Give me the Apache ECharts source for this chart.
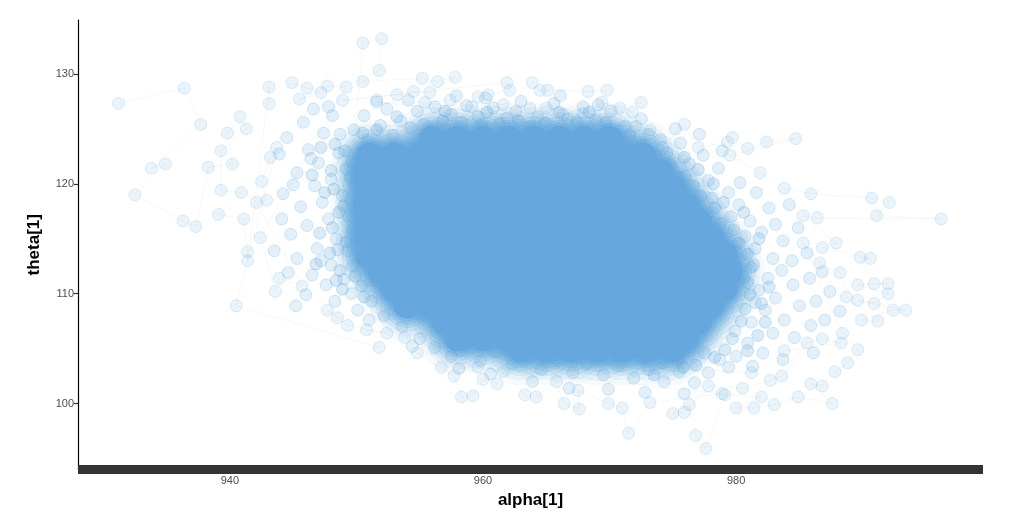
<!DOCTYPE html>
<html>
<head>
<meta charset="utf-8">
<script src="https://cdn.jsdelivr.net/npm/echarts@6/dist/echarts.min.js"></script>
<style>
html,body{margin:0;padding:0;background:#fff;}
#chart{width:1024px;height:529px;}
</style>
</head>
<body>
<div id="chart"></div>
<script>
// Axis labels / ticks
const xTicks = [940, 960, 980];
const yTicks = [100, 110, 120, 130];
const xTitle = 'alpha[1]';
const yTitle = 'theta[1]';

// Dense central region of draws (alpha[1], theta[1]) - read as the solid core
const coreDraws = [
  [956,124],[958,124],[960,124],[962,124],[964,124],[966,124],[968,124],[970,124],
  [951,122.5],[953,122.5],[955,122.5],[957,122.5],[959,122.5],[961,122.5],[963,122.5],[965,122.5],[967,122.5],[969,122.5],[971,122.5],[972.6,122.5],
  [950.8,121],[952,121],[954,121],[956,121],[958,121],[960,121],[962,121],[964,121],[966,121],[968,121],[970,121],[972,121],[974,121],
  [951,119.5],[953,119.5],[955,119.5],[957,119.5],[959,119.5],[961,119.5],[963,119.5],[965,119.5],[967,119.5],[969,119.5],[971,119.5],[973,119.5],[975,119.5],
  [950.8,118],[952,118],[954,118],[956,118],[958,118],[960,118],[962,118],[964,118],[966,118],[968,118],[970,118],[972,118],[974,118],[976,118],
  [951,116.5],[953,116.5],[955,116.5],[957,116.5],[959,116.5],[961,116.5],[963,116.5],[965,116.5],[967,116.5],[969,116.5],[971,116.5],[973,116.5],[975,116.5],[977,116.5],
  [950.9,115],[952,115],[954,115],[956,115],[958,115],[960,115],[962,115],[964,115],[966,115],[968,115],[970,115],[972,115],[974,115],[976,115],[978,115],
  [951,113.5],[953,113.5],[955,113.5],[957,113.5],[959,113.5],[961,113.5],[963,113.5],[965,113.5],[967,113.5],[969,113.5],[971,113.5],[973,113.5],[975,113.5],[977,113.5],[979,113.5],
  [952,112],[954,112],[956,112],[958,112],[960,112],[962,112],[964,112],[966,112],[968,112],[970,112],[972,112],[974,112],[976,112],[978,112],[979.4,112],
  [953,110.5],[955,110.5],[957,110.5],[959,110.5],[961,110.5],[963,110.5],[965,110.5],[967,110.5],[969,110.5],[971,110.5],[973,110.5],[975,110.5],[977,110.5],[979,110.5],
  [954,109],[956,109],[958,109],[960,109],[962,109],[964,109],[966,109],[968,109],[970,109],[972,109],[974,109],[976,109],[978,109],
  [957,107.5],[959,107.5],[961,107.5],[963,107.5],[965,107.5],[967,107.5],[969,107.5],[971,107.5],[973,107.5],[975,107.5],[977,107.5],
  [958,106],[960,106],[962,106],[964,106],[966,106],[968,106],[970,106],[972,106],[974,106],[976,106],
  [963,105],[965,105],[967,105],[969,105],[971,105],[973,105],[975,105]
];

// Draws just outside the dense region (transition band)
const nearDraws = [
  [948.3,123.6],[949.1,123.0],[948.0,121.2],[949.5,120.6],[948.2,119.5],[949.0,118.0],[948.6,117.4],[949.7,115.8],[948.1,116.0],[949.2,114.7],
  [948.7,112.1],[949.9,111.6],[948.9,110.4],[950.6,109.7],[950.5,124.6],[951.6,124.9],[949.6,122.0],[947.5,119.2],[947.1,115.5],[947.9,113.7],
  [946.8,112.7],[948.4,111.2],[950.4,110.7],[946.5,120.8],[947.2,123.3],
  [953.2,126.1],[954.3,125.1],[956.8,125.7],[958.3,125.6],[959.9,125.4],[961.3,125.5],[962.8,125.7],[964.9,125.5],[966.0,126.5],[967.4,125.6],
  [968.4,126.5],[969.7,125.6],[971.6,124.4],[972.6,123.5],[957.0,126.6],[960.3,126.5],[963.7,125.2],
  [973.6,122.5],[974.8,121.7],[975.4,120.6],[976.6,119.8],[977.2,118.9],[978.3,117.8],[978.8,116.4],[979.8,115.8],[980.2,114.6],[980.9,113.6],
  [981.2,112.4],[975.9,122.4],[977.0,121.3],[978.2,120.0],[979.0,118.3],[980.6,117.4],[981.8,115.0],
  [980.9,111.0],[981.1,109.9],[980.7,108.6],[980.4,107.5],[979.7,105.9],[979.1,104.9],[978.3,104.2],[982.0,109.1],[982.3,107.4],[981.7,106.2],
  [980.9,104.8],[982.6,110.6],
  [976.8,103.5],[975.4,104.0],[974.1,103.7],[972.6,104.1],[971.3,104.4],[970.0,104.0],[968.8,104.6],[967.4,104.2],[966.2,104.6],[964.0,104.8],
  [962.0,104.9],[960.5,105.5],[959.4,106.2],[957.8,106.5],[956.5,107.2],[955.2,108.0],[954.0,108.6],[953.1,109.7],[952.3,110.6],[951.6,111.2],
  [975.8,103.3],[973.5,102.6]
];

// Draws around the edge of the dense region
const fringeDraws = [
  [944.5,124.2],[945.8,125.6],[946.2,123.1],[947.4,124.6],[948.1,126.2],[947.0,121.9],[948.6,122.8],[945.3,121.0],[946.7,119.8],[948.0,120.4],
  [944.2,119.1],[945.6,117.9],[947.3,118.3],[948.9,118.9],[946.1,116.2],[947.8,116.8],[944.8,115.4],[948.4,115.0],[946.9,114.1],[945.3,113.2],
  [948.0,112.6],[946.5,111.7],[944.6,111.9],[947.6,110.8],[949.0,111.3],[946.0,109.9],[948.3,109.3],[949.6,110.0],[949.2,121.3],[949.4,117.0],
  [949.3,113.9],[948.7,124.5],[947.8,127.0],[946.6,126.8],[943.9,122.7],[944.1,116.8],[943.5,113.9],[945.2,108.9],[950.1,108.5],[949.8,124.9],
  [949.9,119.8],[948.5,114.0],[947.2,113.0],[949.7,112.5],[945.0,119.9],[946.4,122.3],
  [950.6,126.2],[951.9,125.3],[952.4,126.8],[953.5,125.7],[954.8,126.6],[955.3,125.4],[956.2,127.0],[957.5,126.3],[958.7,127.1],[959.6,126.1],
  [960.8,126.9],[961.9,126.0],[963.0,127.5],[964.3,126.1],[965.6,127.3],[966.7,125.9],[967.9,127.0],[968.9,125.8],[970.1,126.6],[971.2,125.2],
  [972.5,125.9],[973.1,124.5],[952.9,124.4],[950.9,123.9],[951.6,127.6],[954.1,127.6],[957.9,128.0],[960.2,127.8],[962.6,126.6],[966.1,128.0],
  [969.1,127.2],[974.0,124.0],[955.9,124.8],[969.8,124.9],
  [974.5,122.8],[975.6,123.7],[976.3,121.8],[977.4,122.6],[976.0,120.7],[977.8,120.3],[978.6,121.4],[979.4,119.2],[978.1,118.7],[980.2,118.1],
  [979.6,117.0],[981.1,116.6],[980.7,115.2],[982.0,115.6],[981.5,114.1],[982.6,117.8],[983.1,116.3],[980.3,120.1],[981.6,119.2],[977.1,124.5],
  [975.2,125.0],[978.9,123.0],[983.7,114.8],[982.9,113.2],[984.2,118.1],[984.9,116.0],[985.6,113.7],
  [981.4,112.6],[982.5,111.4],[983.6,112.1],[981.8,110.3],[983.1,109.6],[984.5,110.8],[982.3,108.5],[983.8,107.6],[985.0,108.9],[981.2,107.4],
  [982.9,106.4],[984.6,106.0],[980.9,105.5],[982.1,104.6],[983.7,104.0],[985.8,111.4],[986.3,109.3],[985.9,107.1],[984.4,113.0],[986.8,112.0],
  [987.4,110.2],[981.5,109.2],[980.6,111.5],[979.9,106.6],[980.0,104.3],[979.4,103.3],[981.3,103.4],[987.0,107.6],[988.2,108.4],[986.1,104.6],
  [956.2,105.1],[957.5,104.3],[958.9,105.0],[959.8,103.9],[961.0,104.7],[962.3,103.6],[963.5,104.3],[964.6,103.1],[965.9,103.9],[967.1,102.8],
  [968.2,103.6],[969.5,102.6],[970.7,103.4],[971.9,102.3],[973.1,103.1],[974.3,102.0],[975.5,102.9],[976.7,101.9],[977.8,102.8],[978.7,104.0],
  [977.5,104.6],[960.6,102.7],[963.9,102.0],[966.8,101.4],[969.9,101.3],[972.8,101.0],[975.9,100.9],[962.4,105.4],[958.1,103.2],[955.0,105.9],
  [953.6,107.0],[952.2,108.0],[951.2,109.3],[954.4,105.2],[951.0,107.6]
];

// Scattered outlying draws, in path order
const outerDraws = [
  [931.2,127.3],[936.4,128.7],[937.7,125.4],[933.8,121.4],[934.9,121.8],[932.5,119.0],[936.3,116.6],[937.3,116.1],[938.3,121.5],[940.2,121.8],
  [939.8,124.6],[940.8,126.1],[941.3,125.0],[939.3,123.0],[939.3,119.4],[940.9,119.2],[939.1,117.2],[941.1,116.8],[941.4,113.8],[941.4,113.0],
  [943.1,128.8],[943.1,127.3],[944.9,129.2],[946.1,128.7],[947.2,128.3],[945.5,127.7],[947.7,128.9],[949.2,128.8],[942.4,115.1],[943.6,110.2],
  [943.9,111.4],[945.7,110.7],[942.1,118.3],[942.9,118.5],[942.5,120.2],[943.2,122.4],[943.7,123.3],[940.5,108.9],[951.8,105.1],[950.8,106.7],
  [952.4,106.4],[949.3,107.1],[947.7,108.5],[948.5,107.8],
  [950.5,132.8],[952.0,133.2],[951.8,130.3],[950.5,129.3],[955.2,129.6],[956.4,129.3],[957.8,129.7],[955.8,128.3],[954.5,128.4],[953.2,128.1],
  [948.9,127.6],[961.9,129.2],[962.1,128.5],[960.4,128.1],[959.6,127.9],[961.6,127.2],[963.9,129.2],[964.5,128.5],[965.1,128.5],[968.3,128.4],
  [969.8,128.5],[969.4,127.4],[970.8,126.9],[971.8,126.5],[972.5,127.4],[967.9,126.4],[966.3,126.3],[965.0,126.9],[963.7,126.9],[959.1,127.0],
  [957.4,127.6],[955.4,127.4],[951.6,127.4],[972.1,125.2],[973.2,124.9],[974.2,123.3],
  [975.9,125.4],[977.0,123.3],[979.3,123.8],[979.7,124.2],[980.9,123.2],[982.4,123.8],[984.7,124.1],[979.5,122.6],[981.9,121.0],[983.8,119.6],
  [985.9,119.1],[990.7,118.7],[992.1,118.3],[991.1,117.1],[996.2,116.8],[986.4,116.9],[985.3,117.1],[987.9,114.6],[986.8,114.2],[990.6,113.2],
  [989.8,113.3],[990.9,110.9],[992.0,110.9],[989.6,110.8],[992.0,110.0],[990.9,109.1],[989.6,109.4],[993.4,108.5],[992.4,108.5],[989.9,107.6],
  [991.2,107.5],[988.7,109.7],[988.2,111.9],[986.6,112.8],[985.3,114.6],[988.4,106.4],
  [989.6,104.9],[988.8,103.7],[987.8,102.9],[986.8,101.6],[985.9,101.8],[987.6,100.0],[984.9,100.6],[983.0,99.9],[981.4,99.6],[980.0,99.6],
  [982.0,100.6],[979.1,100.8],[977.6,95.9],[976.8,97.1],[976.3,99.9],[975.0,99.1],[975.9,99.2],[977.8,101.6],[980.5,101.4],[982.7,102.1],
  [983.6,102.5],[985.6,105.5],[986.8,105.9],[988.3,105.5],[983.8,104.8],[981.2,102.8],
  [954.8,104.6],[956.7,103.3],[957.7,102.5],[958.3,100.6],[959.2,100.7],[960.0,102.2],[961.1,101.8],[961.6,102.9],[963.3,100.8],[964.2,100.6],
  [965.8,102.0],[966.4,100.0],[967.6,99.5],[967.5,101.2],[969.9,100.0],[971.0,99.6],[971.5,97.3],[973.2,100.1],[978.9,100.9],[959.6,103.3],
  [958.2,104.8],[953.8,106.0]
];

const blue = '#66a8de';
const pointStyle = (a, b) => ({color: 'rgba(102,168,222,' + a + ')', borderColor: 'rgba(102,168,222,' + b + ')', borderWidth: 1});
const coreLayers = [[74, 0.05], [64, 0.09], [55, 0.14], [47, 0.2], [40, 0.28], [34, 0.4], [28, 1]];
const chart = echarts.init(document.getElementById('chart'), null, {renderer: 'canvas'});
const coreSeries = coreLayers.map(([size, op]) => ({
  type: 'scatter', data: coreDraws, symbolSize: size, silent: true, z: 2,
  itemStyle: {color: blue, opacity: op}
}));
const option = {
  animation: false,
  backgroundColor: '#ffffff',
  grid: {left: 78, right: 41, top: 20, bottom: 59.5, containLabel: false},
  xAxis: {
    type: 'value', min: 928, max: 999.5,
    axisLine: {show: true, onZero: false, lineStyle: {color: '#333333', width: 9, cap: 'butt'}},
    axisTick: {show: false},
    splitLine: {show: false},
    axisLabel: {customValues: xTicks, color: '#4d4d4d', fontSize: 11, fontFamily: 'Liberation Sans, Arial, sans-serif', margin: 6},
    name: xTitle, nameLocation: 'middle', nameGap: 21,
    nameTextStyle: {fontWeight: 'bold', fontSize: 17, color: '#000', fontFamily: 'Liberation Sans, Arial, sans-serif'}
  },
  yAxis: {
    type: 'value', min: 94, max: 134.9,
    axisLine: {show: true, onZero: false, lineStyle: {color: '#000000', width: 1.2}},
    axisTick: {show: true, customValues: yTicks, length: 4, lineStyle: {color: '#333333', width: 1.2}},
    splitLine: {show: false},
    axisLabel: {customValues: yTicks, color: '#4d4d4d', fontSize: 11, fontFamily: 'Liberation Sans, Arial, sans-serif', margin: 4},
    name: yTitle, nameLocation: 'middle', nameGap: 35, nameRotate: 90,
    nameTextStyle: {fontWeight: 'bold', fontSize: 17, color: '#000', fontFamily: 'Liberation Sans, Arial, sans-serif'}
  },
  series: [
    {
      type: 'line', data: outerDraws, symbol: 'none', silent: true, z: 1,
      lineStyle: {color: 'rgba(200,200,200,0.14)', width: 1}
    }
  ].concat(coreSeries).concat([
    {
      type: 'scatter', data: nearDraws, symbolSize: 12, silent: true, z: 3,
      itemStyle: pointStyle(0.3, 0.4)
    },
    {
      type: 'scatter', data: fringeDraws, symbolSize: 12, silent: true, z: 3,
      itemStyle: pointStyle(0.22, 0.32)
    },
    {
      type: 'scatter', data: outerDraws, symbolSize: 12, silent: true, z: 4,
      itemStyle: pointStyle(0.16, 0.26)
    }
  ])
};
chart.setOption(option);
</script>
</body>
</html>
